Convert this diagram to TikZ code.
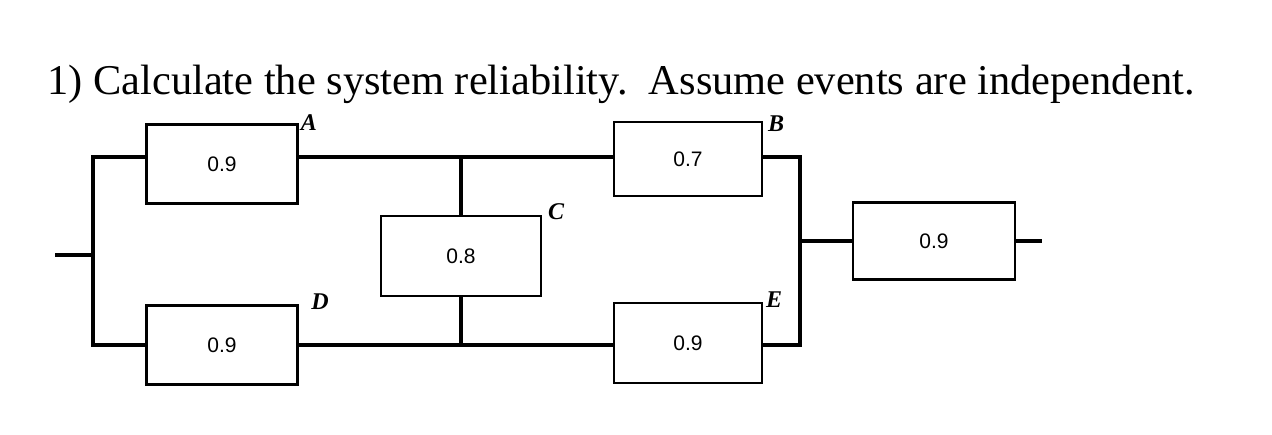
\documentclass[tikz,border=0pt]{standalone}
\usepackage{fontspec}
\setmainfont{Liberation Serif}
\newfontfamily\boxfont{Liberation Sans}
\begin{document}
\begin{tikzpicture}[x=1pt,y=-1pt,
  blk/.style={draw,line width=2.2pt,minimum width=151pt,minimum height=79pt,font=\boxfont\fontsize{21}{24}\selectfont},
  wire/.style={line width=4pt},
  lab/.style={font=\fontsize{24}{28}\selectfont\itshape\bfseries}]
\useasboundingbox (0,0) rectangle (1272,434);
\node[anchor=base west,font=\fontsize{42.4}{48}\selectfont] (title) at (44,94) {1) Calculate the system reliability.\ \ Assume events are independent.};
\node[blk] (A) at (222,164) {0.9};
\node[blk,minimum height=74pt,minimum width=148pt] (B) at (688,159) {0.7};
\node[blk,minimum width=160pt,minimum height=80pt] (C) at (461,256) {0.8};
\node[blk] (D) at (222,345) {0.9};
\node[blk,minimum width=148pt,minimum height=80pt] (E) at (688,343) {0.9};
\node[blk,minimum width=162pt,minimum height=77pt] (F) at (934,241) {0.9};
\coordinate (in) at (55,255);
\coordinate (out) at (1042,241);
\coordinate (jl) at (93,255);
\coordinate (jr) at (800,241);
\coordinate (ct) at (461,157);
\coordinate (cb) at (461,345);
\draw[wire] (in) -- (jl);
\draw[wire] (A.west |- 0,157) -| (jl) |- (D.west);
\draw[wire] (A.east |- 0,157) -- (B.west |- 0,157);
\draw[wire] (D.east) -- (E.west |- 0,345);
\draw[wire] (ct) -- (C.north);
\draw[wire] (C.south) -- (cb);
\draw[wire] (B.east |- 0,157) -| (jr) |- (E.east |- 0,345);
\draw[wire] (jr) -- (F.west);
\draw[wire] (F.east) -- (out);
\node[lab] (la) at (309,123) {A};
\node[lab] (lb) at (776,124) {B};
\node[lab] (lc) at (556,212) {C};
\node[lab] (ld) at (320,302) {D};
\node[lab] (le) at (774,300) {E};
\end{tikzpicture}
\end{document}
